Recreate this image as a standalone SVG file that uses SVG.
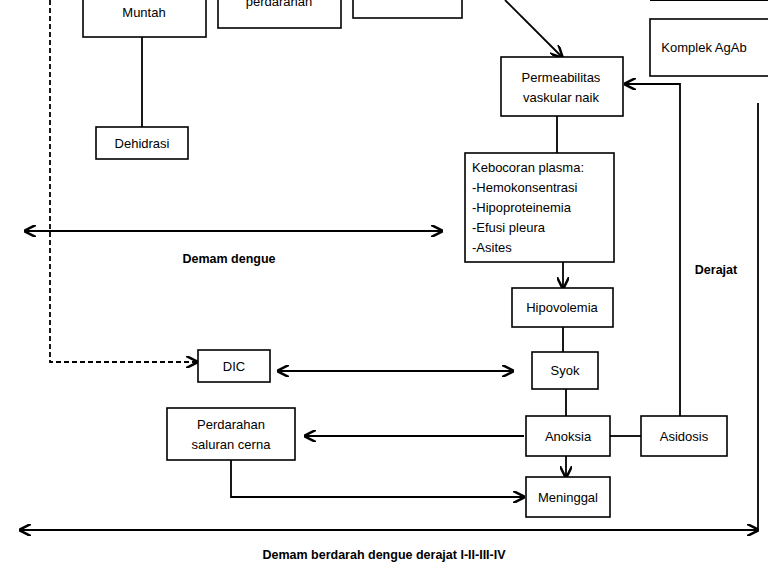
<svg xmlns="http://www.w3.org/2000/svg" width="768" height="576" viewBox="0 0 768 576">
<style>
rect{fill:#fff;stroke:#000;stroke-width:1.6}
text{font-family:"Liberation Sans Narrow","Liberation Sans",Arial,sans-serif;font-size:13px;text-anchor:middle;fill:#000}
.b{font-weight:bold;font-size:12.5px}
.l{text-anchor:start}
#c path{fill:none;stroke:#000;stroke-width:1.8}
</style>
<defs><marker id="a" viewBox="0 0 10 10" refX="9" refY="5" markerWidth="7" markerHeight="7" orient="auto-start-reverse"><path d="M0,0L10,5L0,10" fill="none" stroke="#000" stroke-width="2"/></marker></defs>
<rect x="0" y="0" width="768" height="576" style="fill:#fff;stroke:none"/>
<g id="c">
<path d="M505,0L562,57" marker-end="url(#a)"/>
<path d="M142,37V127"/>
<path d="M557,116V153"/>
<path d="M563,262V288" marker-end="url(#a)"/>
<path d="M563,327V352"/>
<path d="M566,389V416"/>
<path d="M566,456V477" marker-end="url(#a)"/>
<path d="M610,436H641"/>
<path d="M524,436H305" marker-end="url(#a)"/>
<path d="M231,460V497H524" marker-end="url(#a)"/>
<path d="M680,416V84H625" marker-end="url(#a)"/>
<path d="M278,371H513" marker-start="url(#a)" marker-end="url(#a)"/>
<path d="M25,231H442" marker-start="url(#a)" marker-end="url(#a)"/>
<path d="M758,103V530"/>
<path d="M20,530H758" marker-start="url(#a)" marker-end="url(#a)"/>
<path d="M50,0V362H197" stroke-dasharray="5,3" marker-end="url(#a)"/>
<path d="M650,0H768"/>
</g>
<g id="muntah"><rect x="83" y="-10" width="123" height="47"/><text x="144" y="17">Muntah</text></g>
<g id="perdarahan"><rect x="218" y="-10" width="123" height="38"/><text x="279" y="6">perdarahan</text></g>
<g id="box3"><rect x="353" y="-10" width="109" height="28"/></g>
<g id="komplek"><rect x="650" y="19" width="125" height="57"/><text x="704" y="52">Komplek AgAb</text></g>
<g id="perm"><rect x="501" y="57" width="122" height="59"/><text x="561" y="82">Permeabilitas</text><text x="561" y="102">vaskular naik</text></g>
<g id="dehidrasi"><rect x="96" y="127" width="92" height="32"/><text x="142" y="148">Dehidrasi</text></g>
<g id="kebocoran"><rect x="465" y="153" width="149" height="109"/>
<text class="l" x="472" y="172">Kebocoran plasma:</text><text class="l" x="472" y="192">-Hemokonsentrasi</text><text class="l" x="472" y="212">-Hipoproteinemia</text><text class="l" x="472" y="232">-Efusi pleura</text><text class="l" x="472" y="252">-Asites</text></g>
<g id="hipo"><rect x="512" y="288" width="101" height="39"/><text x="562" y="312">Hipovolemia</text></g>
<g id="syok"><rect x="532" y="352" width="66" height="37"/><text x="565" y="375">Syok</text></g>
<g id="dic"><rect x="198" y="350" width="72" height="32"/><text x="234" y="371">DIC</text></g>
<g id="perdsal"><rect x="167" y="408" width="128" height="52"/><text x="231" y="429">Perdarahan</text><text x="231" y="449">saluran cerna</text></g>
<g id="anoksia"><rect x="526" y="416" width="84" height="40"/><text x="568" y="441">Anoksia</text></g>
<g id="asidosis"><rect x="641" y="416" width="86" height="40"/><text x="684" y="441">Asidosis</text></g>
<g id="meninggal"><rect x="526" y="477" width="84" height="40"/><text x="568" y="502">Meninggal</text></g>
<text class="b" x="229" y="263">Demam dengue</text>
<text class="b" x="716" y="274">Derajat</text>
<text class="b" x="384" y="559">Demam berdarah dengue derajat I-II-III-IV</text>
</svg>
